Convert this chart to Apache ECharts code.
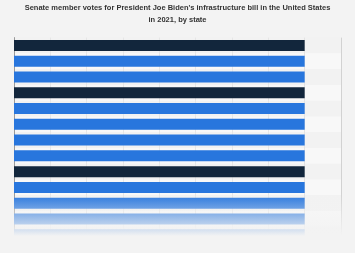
<!DOCTYPE html>
<html>
<head>
<meta charset="utf-8">
<script src="https://cdn.jsdelivr.net/npm/echarts@6/dist/echarts.min.js"></script>
<style>
html,body{margin:0;padding:0;background:#f3f3f3;}
#chart{width:355px;height:253px;}
</style>
</head>
<body>
<div id="chart"></div>
<script>
// Data (state labels are hidden in the reference)
const states = ['Alaska', 'Arizona', 'California', 'Colorado', 'Connecticut', 'Delaware', 'Georgia', 'Hawaii', 'Idaho', 'Illinois', 'Maine', 'Maryland', 'Massachusetts'];
const votes = [2, 2, 2, 2, 2, 2, 2, 2, 2, 2, 2, 2, 2];
const highlighted = [true, false, false, true, false, false, false, false, true, false, false, false, false];
const xTicks = [0, 0.25, 0.5, 0.75, 1, 1.25, 1.5, 1.75, 2, 2.25];

const titleText = "Senate member votes for President Joe Biden's infrastructure bill in the United States\nin 2021, by state";

const chart = echarts.init(document.getElementById('chart'), null, {renderer: 'canvas'});
const bg = '#f3f3f3';
chart.setOption({
  backgroundColor: bg,
  animation: false,
  title: {
    text: titleText,
    left: 'center',
    top: 1.5,
    padding: 0,
    textStyle: {
      fontFamily: 'Liberation Sans, Arial, sans-serif',
      fontSize: 7.5,
      fontWeight: 'bold',
      color: '#333',
      lineHeight: 12
    }
  },
  grid: {left: 14, right: 14, top: 37.6, height: 205, containLabel: false},
  xAxis: {
    type: 'value',
    min: xTicks[0],
    max: xTicks[xTicks.length - 1],
    interval: 0.25,
    axisLabel: {show: false},
    axisLine: {show: false},
    axisTick: {show: false},
    splitLine: {
      show: true,
      lineStyle: {color: ['#e3e3e3', '#e6e6e6', '#e6e6e6', '#e6e6e6', '#e6e6e6', '#e6e6e6', '#e6e6e6', '#e6e6e6', '#e3e3e3', '#d2d2d2'], width: 1}
    }
  },
  yAxis: {
    type: 'category',
    data: states,
    inverse: true,
    axisLabel: {show: false},
    axisTick: {show: false},
    axisLine: {show: true, lineStyle: {color: '#9a9a9a', width: 1}},
    splitArea: {show: true, areaStyle: {color: ['#f2f2f2', '#f8f8f8']}}
  },
  series: [{
    type: 'bar',
    data: votes.map((v, i) => ({
      value: v,
      itemStyle: {color: highlighted[i] ? '#12263c' : '#2876dd'}
    })),
    barWidth: 11,
    z: 3
  }],
  graphic: [
    {
      type: 'rect',
      z: 100,
      shape: {x: 0, y: 194, width: 355, height: 42},
      style: {
        fill: new echarts.graphic.LinearGradient(0, 0, 0, 1, [
          {offset: 0, color: 'rgba(243,243,243,0)'},
          {offset: 1, color: 'rgba(243,243,243,1)'}
        ])
      }
    },
    {
      type: 'rect',
      z: 100,
      shape: {x: 0, y: 236, width: 355, height: 17},
      style: {fill: bg}
    }
  ]
});
</script>
</body>
</html>
